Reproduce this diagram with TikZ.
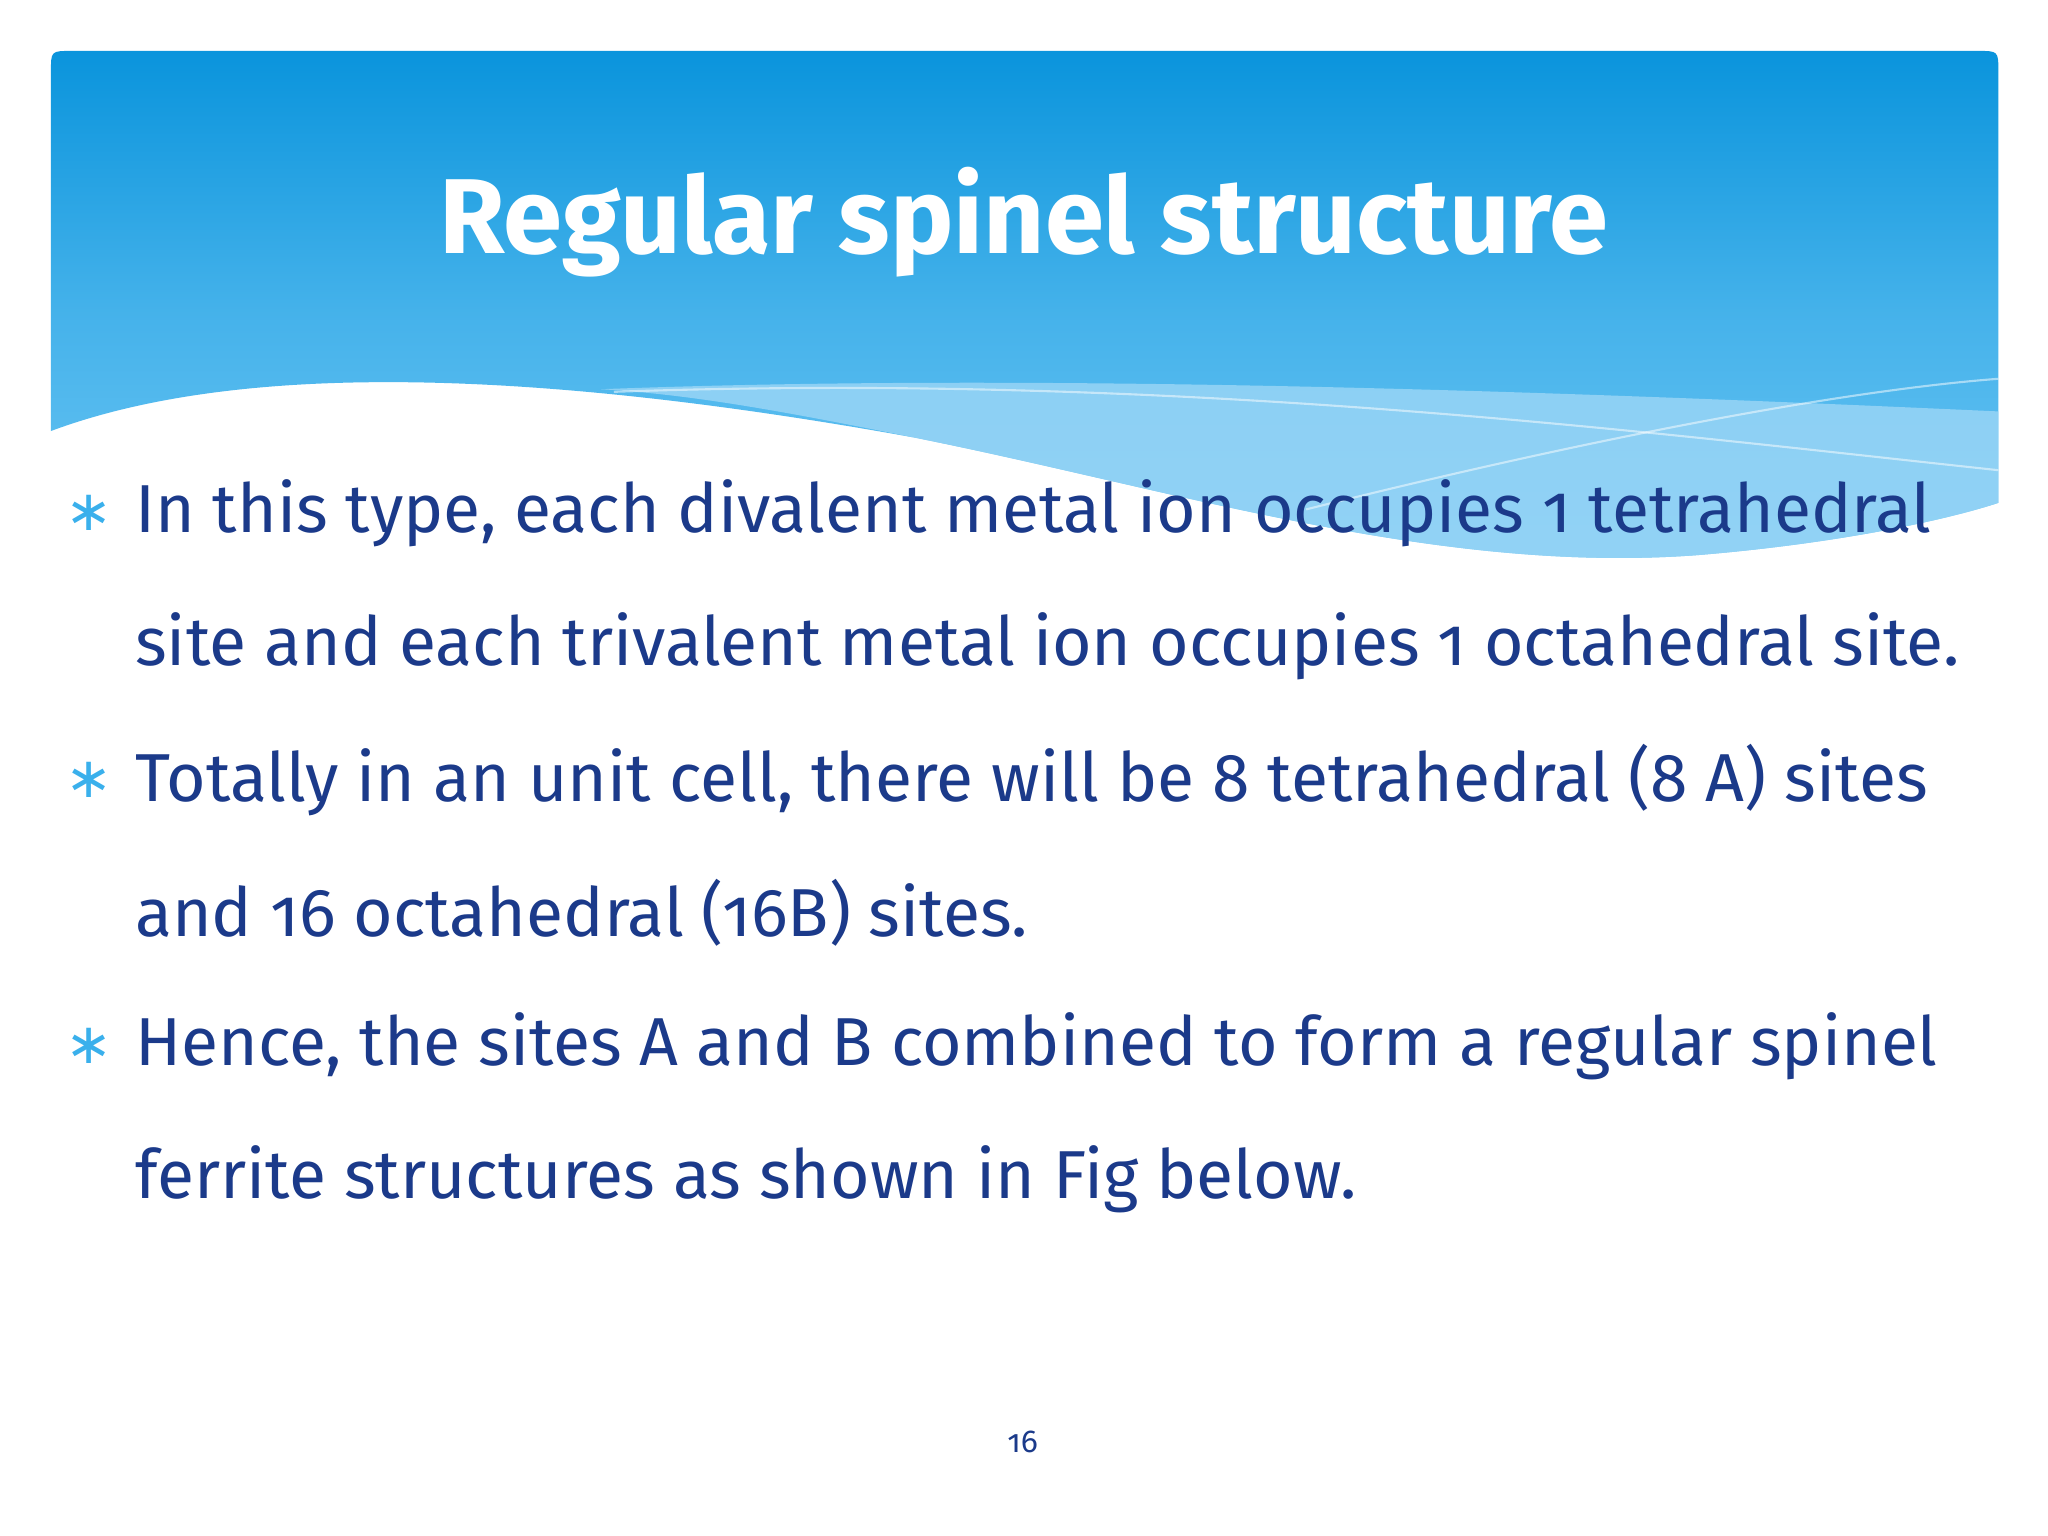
\documentclass[tikz,border=0pt]{standalone}
\usepackage{fontspec}
\setmainfont[Numbers=OldStyle]{Fira Sans}
\newfontfamily\symf{DejaVu Sans}
\definecolor{navy}{HTML}{1B3A8A}
\definecolor{htop}{HTML}{0A94DC}
\definecolor{hbot}{HTML}{6CC6F4}
\definecolor{band}{HTML}{9CD6F6}
\definecolor{bullet}{HTML}{3AB0EC}
\tikzset{
  bodytext/.style={anchor=west,text=navy,font=\fontsize{19.3}{22}\selectfont,inner sep=0},
  bul/.style={anchor=center,text=bullet,font=\symf\fontsize{16}{18}\selectfont,inner sep=0}
}
\begin{document}
\begin{tikzpicture}[x={(0.01306cm,0)},y={(0,-0.01306cm)}]
\useasboundingbox (0,0) rectangle (1568,1176);
\fill[white] (0,0) rectangle (1568,1176);
% header
\path[top color=htop,bottom color=hbot,middle color=hbot!60!htop]
  (39,330) -- (39,55) .. controls (39,39) .. (55,39) -- (1514,39)
  .. controls (1530,39) .. (1530,55) -- (1530,385)
  .. controls (1500,395) and (1420,415) .. (1300,425)
  .. controls (1100,440) and (900,375) .. (700,335)
  .. controls (450,290) and (200,270) .. (39,330) -- cycle;
\fill[band,opacity=0.8] (460,298) .. controls (800,285) and (1200,300) .. (1530,315)
  -- (1530,385)
  .. controls (1500,395) and (1420,415) .. (1300,425)
  .. controls (1100,440) and (900,375) .. (700,335)
  .. controls (600,315) and (530,302) .. (460,298) -- cycle;
\draw[white,opacity=0.5,line width=0.6pt] (470,300) .. controls (900,285) and (1250,330) .. (1530,360);
\draw[white,opacity=0.5,line width=0.6pt] (1000,390) .. controls (1200,340) and (1400,300) .. (1530,290);
\node[text=white,font=\bfseries\fontsize{30.3}{34}\selectfont] (title) at (784,170) {Regular spinel structure};
% bullets
\node[bul] (b1) at (68,393) {∗};
\node[bodytext] (l1) at (103,393) {In this type, each divalent metal ion occupies 1 tetrahedral};
\node[bodytext] (l2) at (103,495) {site and each trivalent metal ion occupies 1 octahedral site.};
\node[bul] (b2) at (68,597) {∗};
\node[bodytext] (l3) at (103,597) {Totally in an unit cell, there will be 8 tetrahedral (8 A) sites};
\node[bodytext] (l4) at (103,699) {and 16 octahedral (16B) sites.};
\node[bul] (b3) at (68,801) {∗};
\node[bodytext] (l5) at (103,801) {Hence, the sites A and B combined to form a regular spinel};
\node[bodytext] (l6) at (103,903) {ferrite structures as shown in Fig below.};
\node[text=navy,font=\fontsize{9}{10}\selectfont] (pg) at (783,1104) {16};
\end{tikzpicture}
\end{document}
